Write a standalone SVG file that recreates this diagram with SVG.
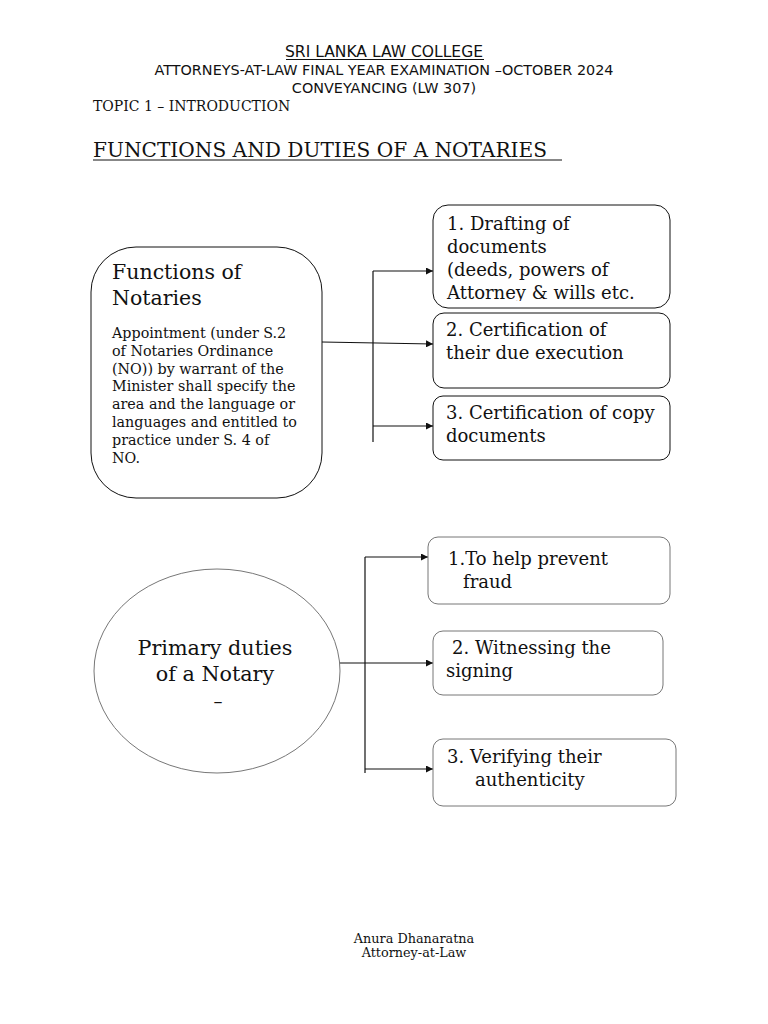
<svg xmlns="http://www.w3.org/2000/svg" width="768" height="1024" viewBox="0 0 768 1024">
<style>
.hs{font-family:"DejaVu Sans",sans-serif;fill:#111}
.sf{font-family:"DejaVu Serif",serif;fill:#111}
.box{fill:#fff;stroke:#111;stroke-width:1}
.gbox{fill:#fff;stroke:#777;stroke-width:1}
.ln{fill:none;stroke:#111;stroke-width:1.2}
</style>
<defs>
<marker id="ah" viewBox="0 0 10 10" refX="10" refY="5" markerWidth="7" markerHeight="7" orient="auto" markerUnits="userSpaceOnUse">
<path d="M0,0 L10,5 L0,10 z" fill="#111"/>
</marker>
<clipPath id="c1"><rect x="433" y="205" width="237" height="96"/></clipPath>
</defs>
<rect width="768" height="1024" fill="#fff"/>
<g id="header">
<text class="hs" x="384" y="57" font-size="15" text-anchor="middle" textLength="198" lengthAdjust="spacingAndGlyphs">SRI LANKA LAW COLLEGE</text>
<line x1="286" y1="59.5" x2="484" y2="59.5" stroke="#111" stroke-width="1"/>
<text class="hs" x="384" y="75" font-size="14.2" text-anchor="middle" textLength="459" lengthAdjust="spacingAndGlyphs">ATTORNEYS-AT-LAW FINAL YEAR EXAMINATION –OCTOBER 2024</text>
<text class="hs" x="384" y="93" font-size="14.4" text-anchor="middle">CONVEYANCING (LW 307)</text>
<text class="sf" x="93" y="111" font-size="14">TOPIC 1 – INTRODUCTION</text>
<text class="sf" x="93" y="157" font-size="20" textLength="454" lengthAdjust="spacingAndGlyphs">FUNCTIONS AND DUTIES OF A NOTARIES</text>
<line x1="93" y1="160" x2="562" y2="160" stroke="#111" stroke-width="1"/>
</g>
<g id="connectors">
<line class="ln" x1="322" y1="342" x2="433" y2="344" marker-end="url(#ah)"/>
<line class="ln" x1="373" y1="271" x2="373" y2="442"/>
<line class="ln" x1="373" y1="271" x2="433" y2="271" marker-end="url(#ah)"/>
<line class="ln" x1="373" y1="426" x2="433" y2="426" marker-end="url(#ah)"/>
<line class="ln" x1="340" y1="663" x2="433" y2="663" marker-end="url(#ah)"/>
<line class="ln" x1="365" y1="557" x2="365" y2="773"/>
<line class="ln" x1="365" y1="557" x2="428" y2="557" marker-end="url(#ah)"/>
<line class="ln" x1="365" y1="769" x2="433" y2="769" marker-end="url(#ah)"/>
</g>
<g id="functions">
<rect class="box" x="91" y="247" width="231" height="251" rx="45"/>
<text class="sf" x="112" y="279" font-size="20.5">Functions of</text>
<text class="sf" x="112" y="305" font-size="20.5">Notaries</text>
<g class="sf" font-size="14.3">
<text x="112" y="338">Appointment (under S.2</text>
<text x="112" y="356">of Notaries Ordinance</text>
<text x="112" y="374">(NO)) by warrant of the</text>
<text x="112" y="391">Minister shall specify the</text>
<text x="112" y="409">area and the language or</text>
<text x="112" y="427">languages and entitled to</text>
<text x="112" y="445">practice under S. 4 of</text>
<text x="112" y="463">NO.</text>
</g>
</g>
<g id="f1">
<rect class="box" x="433" y="205" width="237" height="103" rx="15"/>
<g class="sf" font-size="18" clip-path="url(#c1)">
<text x="447" y="230">1. Drafting of</text>
<text x="447" y="253">documents</text>
<text x="447" y="276">(deeds, powers of</text>
<text x="447" y="299">Attorney &amp; wills etc.</text>
</g>
</g>
<g id="f2">
<rect class="box" x="433" y="313" width="237" height="75" rx="11"/>
<text class="sf" x="446" y="336" font-size="18">2. Certification of</text>
<text class="sf" x="446" y="359" font-size="18">their due execution</text>
</g>
<g id="f3">
<rect class="box" x="433" y="396" width="237" height="64" rx="10"/>
<text class="sf" x="446" y="419" font-size="18">3. Certification of copy</text>
<text class="sf" x="446" y="442" font-size="18">documents</text>
</g>
<g id="duties">
<ellipse cx="217" cy="671" rx="123" ry="102" fill="#fff" stroke="#777" stroke-width="1"/>
<text class="sf" x="215" y="655" font-size="20.7" text-anchor="middle">Primary duties</text>
<text class="sf" x="215" y="681" font-size="20.7" text-anchor="middle">of a Notary</text>
<text class="sf" x="218" y="708" font-size="18" text-anchor="middle">–</text>
</g>
<g id="d1">
<rect class="gbox" x="428" y="537" width="242" height="67" rx="10"/>
<text class="sf" x="448" y="565" font-size="18">1.To help prevent</text>
<text class="sf" x="463" y="588" font-size="18">fraud</text>
</g>
<g id="d2">
<rect class="gbox" x="433" y="631" width="230" height="64" rx="10"/>
<text class="sf" x="452" y="654" font-size="18">2. Witnessing the</text>
<text class="sf" x="446" y="677" font-size="18">signing</text>
</g>
<g id="d3">
<rect class="gbox" x="433" y="739" width="243" height="67" rx="10"/>
<text class="sf" x="447" y="763" font-size="18">3. Verifying their</text>
<text class="sf" x="475" y="786" font-size="18">authenticity</text>
</g>
<g id="footer">
<text class="sf" x="414" y="943" font-size="12.8" text-anchor="middle">Anura Dhanaratna</text>
<text class="sf" x="414" y="957" font-size="12.8" text-anchor="middle">Attorney-at-Law</text>
</g>
</svg>
